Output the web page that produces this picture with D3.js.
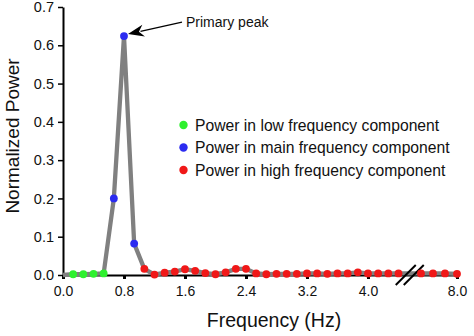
<!DOCTYPE html>
<html>
<head>
<meta charset="utf-8">
<script src="https://cdn.jsdelivr.net/npm/d3@7"></script>
<style>
  html, body { margin: 0; padding: 0; background: #fff; }
  svg { display: block; font-family: "Liberation Sans", Arial, sans-serif; }
</style>
</head>
<body>
<svg id="chart" width="474" height="336"></svg>
<script>
// Spectrum sampled every 2/15 Hz; the axis is broken between 4.4 and 7.6 Hz.
const frequencies = [
  0, 0.1333, 0.2667, 0.4, 0.5333, 0.6667, 0.8, 0.9333, 1.0667, 1.2, 1.3333, 1.4667,
  1.6, 1.7333, 1.8667, 2.0, 2.1333, 2.2667, 2.4, 2.5333, 2.6667, 2.8, 2.9333,
  3.0667, 3.2, 3.3333, 3.4667, 3.6, 3.7333, 3.8667, 4.0, 4.1333, 4.2667, 4.4,
  7.6, 7.7333, 7.8667, 8.0
];
const power = [
  0, 0.002, 0.002, 0.003, 0.004, 0.200, 0.624, 0.082, 0.016, 0.001, 0.006, 0.009,
  0.015, 0.011, 0.005, 0.002, 0.007, 0.016, 0.016, 0.004, 0.002, 0.003, 0.003,
  0.003, 0.004, 0.004, 0.003, 0.004, 0.004, 0.007, 0.004, 0.004, 0.004, 0.004,
  0.004, 0.004, 0.004, 0.003
];
// Component of each sample: "none" for the DC sample (line only)
const component = [
  "none", "low", "low", "low", "low", "main", "main", "main", "high", "high", "high", "high",
  "high", "high", "high", "high", "high", "high", "high", "high", "high", "high", "high",
  "high", "high", "high", "high", "high", "high", "high", "high", "high", "high", "high",
  "high", "high", "high", "high"
];
const xTickValues = [0, 0.8, 1.6, 2.4, 3.2, 4.0, 8.0];
const yTickValues = [0, 0.1, 0.2, 0.3, 0.4, 0.5, 0.6, 0.7];
const legendKeys = ["low", "main", "high"];
const legendLabels = [
  "Power in low frequency component",
  "Power in main frequency component",
  "Power in high frequency component"
];
const componentColors = { low: "#2ef02e", main: "#2b2bf0", high: "#f01818" };
const peakLabel = "Primary peak";

const svg = d3.select("#chart");

// Piecewise x scale: the segment after the break is drawn compressed
const x = d3.scaleLinear()
  .domain([0, 4.4, 7.6, 8.0])
  .range([63, 398.5, 421, 457]);
const y = d3.scaleLinear().domain([0, 0.7]).range([275, 7]);

const samples = frequencies.map((f, i) => ({ f, p: power[i], c: component[i] }));

// Axes
const xAxis = svg.append("g")
  .attr("transform", `translate(0,${y(0)})`)
  .call(d3.axisBottom(x).tickValues(xTickValues).tickFormat(d3.format(".1f"))
    .tickSize(4).tickSizeOuter(0).tickPadding(7));
xAxis.select(".domain").attr("stroke", "#000").attr("stroke-width", 2);
xAxis.selectAll(".tick line").attr("stroke", "#000").attr("stroke-width", 3);
xAxis.selectAll(".tick text").attr("font-size", 14).attr("fill", "#111")
  .attr("font-family", "Liberation Sans, Arial, sans-serif");

const yAxis = svg.append("g")
  .attr("transform", `translate(${x(0)},0)`)
  .call(d3.axisLeft(y).tickValues(yTickValues).tickFormat(d3.format(".1f"))
    .tickSize(5).tickSizeOuter(0).tickPadding(4));
yAxis.select(".domain").attr("stroke", "#000").attr("stroke-width", 2);
yAxis.selectAll(".tick line").attr("stroke", "#000").attr("stroke-width", 1.5);
yAxis.selectAll(".tick text").attr("font-size", 14.5).attr("fill", "#111")
  .attr("font-family", "Liberation Sans, Arial, sans-serif");

// Spectrum line
svg.append("path")
  .datum(samples)
  .attr("fill", "none")
  .attr("stroke", "#808080")
  .attr("stroke-width", 4.3)
  .attr("d", d3.line().x(d => x(d.f)).y(d => y(d.p)));

// Axis break marks
const breakX = (x(4.4) + x(7.6)) / 2;
[-4, 4].forEach(dx => {
  svg.append("line")
    .attr("x1", breakX + dx - 10).attr("y1", y(0) + 10)
    .attr("x2", breakX + dx + 10).attr("y2", y(0) - 10)
    .attr("stroke", "#000").attr("stroke-width", 2);
});

// Sample markers
svg.append("g").selectAll("circle")
  .data(samples.filter(d => d.c !== "none"))
  .join("circle")
  .attr("cx", d => x(d.f))
  .attr("cy", d => y(d.p))
  .attr("r", 3.9)
  .attr("fill", d => componentColors[d.c]);

// Peak annotation
const peak = samples.reduce((a, b) => (b.p > a.p ? b : a));
const tip = [x(peak.f) + 4, y(peak.p) - 2];
const tail = [x(peak.f) + 58, y(peak.p) - 14];
const ang = Math.atan2(tail[1] - tip[1], tail[0] - tip[0]);
const headLen = 16, headHalf = 6;
svg.append("line")
  .attr("x1", tail[0]).attr("y1", tail[1])
  .attr("x2", tip[0] + Math.cos(ang) * headLen * 0.8)
  .attr("y2", tip[1] + Math.sin(ang) * headLen * 0.8)
  .attr("stroke", "#000").attr("stroke-width", 1.3);
const bx = tip[0] + Math.cos(ang) * headLen, by = tip[1] + Math.sin(ang) * headLen;
const nx = -Math.sin(ang), ny = Math.cos(ang);
svg.append("path")
  .attr("d", `M${tip[0]},${tip[1]} L${bx + nx * headHalf},${by + ny * headHalf} ` +
             `L${tip[0] + Math.cos(ang) * headLen * 0.7},${tip[1] + Math.sin(ang) * headLen * 0.7} ` +
             `L${bx - nx * headHalf},${by - ny * headHalf} Z`)
  .attr("fill", "#000");
svg.append("text")
  .attr("x", tail[0] + 4).attr("y", tail[1] + 5)
  .attr("font-size", 14).attr("fill", "#111")
  .text(peakLabel);

// Legend
const legend = svg.append("g");
legendKeys.forEach((k, i) => {
  const ly = 125 + i * 22.5;
  legend.append("circle").attr("cx", 183.5).attr("cy", ly).attr("r", 4.2)
    .attr("fill", componentColors[k]);
  legend.append("text").attr("x", 195).attr("y", ly + 5.5)
    .attr("font-size", 15.7).attr("fill", "#111").text(legendLabels[i]);
});

// Axis titles
svg.append("text")
  .attr("transform", `translate(19,136) rotate(-90)`)
  .attr("text-anchor", "middle")
  .attr("font-size", 19).attr("fill", "#111")
  .text("Normalized Power");
svg.append("text")
  .attr("x", 274).attr("y", 327)
  .attr("text-anchor", "middle")
  .attr("font-size", 19.5).attr("fill", "#111")
  .text("Frequency (Hz)");
</script>
</body>
</html>
